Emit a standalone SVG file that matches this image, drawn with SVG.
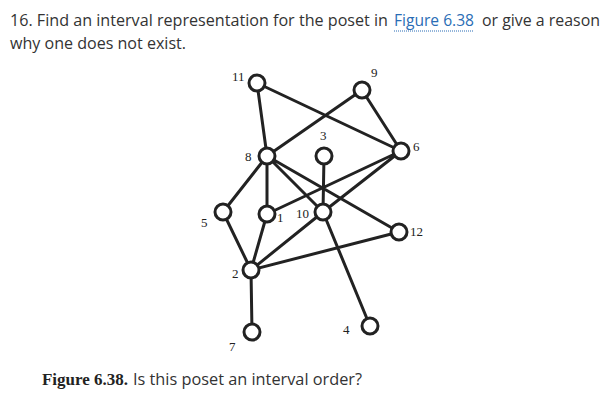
<svg xmlns="http://www.w3.org/2000/svg" width="615" height="400" viewBox="0 0 615 400">
<style>
.t{font-family:"Open Sans",sans-serif;font-size:16px;fill:#333}
.l{font-family:"Liberation Serif",serif;font-size:13px;fill:#222}
.n{fill:#fff;stroke:#222;stroke-width:3}
.e{stroke:#222;stroke-width:3;fill:none}
</style>
<rect width="615" height="400" fill="#fff"/>
<text class="t" x="10" y="26" textLength="378" lengthAdjust="spacingAndGlyphs">16. Find an interval representation for the poset in</text>
<text class="t" x="394" y="26" fill="#2a6db5" style="fill:#2a6db5" textLength="80" lengthAdjust="spacingAndGlyphs">Figure 6.38</text>
<text class="t" x="482" y="26" textLength="118" lengthAdjust="spacingAndGlyphs">or give a reason</text>
<line x1="394" y1="31" x2="474" y2="31" stroke="#2a6db5" stroke-dasharray="1,1"/>
<text class="t" x="10" y="49" textLength="176" lengthAdjust="spacingAndGlyphs">why one does not exist.</text>
<g id="connectors">
<path class="e" d="M257,83L267,156M257,83L401,151M362,90L267,156M362,90L401,151M267,156L223,212M267,156L267,214M267,156L323,212M267,156L399,232M324,156L323,212M401,151L267,214M401,151L323,212M223,212L251,270M267,214L251,270M323,212L251,270M399,232L251,270M251,270L252,332M323,212L370,326"/>
</g>
<g id="n11"><circle class="n" cx="257" cy="83" r="8"/><text class="l" x="232" y="81">11</text></g>
<g id="n9"><circle class="n" cx="362" cy="90" r="8"/><text class="l" x="371" y="77">9</text></g>
<g id="n8"><circle class="n" cx="267" cy="156" r="8"/><text class="l" x="245" y="161">8</text></g>
<g id="n3"><circle class="n" cx="324" cy="156" r="8"/><text class="l" x="320" y="140">3</text></g>
<g id="n6"><circle class="n" cx="401" cy="151" r="8"/><text class="l" x="413" y="151">6</text></g>
<g id="n5"><circle class="n" cx="223" cy="212" r="8"/><text class="l" x="201" y="227">5</text></g>
<g id="n1"><circle class="n" cx="267" cy="214" r="8"/><text class="l" x="277" y="222">1</text></g>
<g id="n10"><circle class="n" cx="323" cy="212" r="8"/><text class="l" x="296" y="218">10</text></g>
<g id="n12"><circle class="n" cx="399" cy="232" r="8"/><text class="l" x="410" y="236">12</text></g>
<g id="n2"><circle class="n" cx="251" cy="270" r="8"/><text class="l" x="232" y="278">2</text></g>
<g id="n7"><circle class="n" cx="252" cy="332" r="8"/><text class="l" x="229" y="351">7</text></g>
<g id="n4"><circle class="n" cx="370" cy="326" r="8"/><text class="l" x="343" y="334">4</text></g>
<text x="42" y="385" textLength="86" lengthAdjust="spacingAndGlyphs" style="font-family:'Liberation Serif',serif;font-size:16px;font-weight:bold;fill:#222">Figure 6.38.</text>
<text class="t" x="133" y="385" textLength="229" lengthAdjust="spacingAndGlyphs">Is this poset an interval order?</text>
</svg>
